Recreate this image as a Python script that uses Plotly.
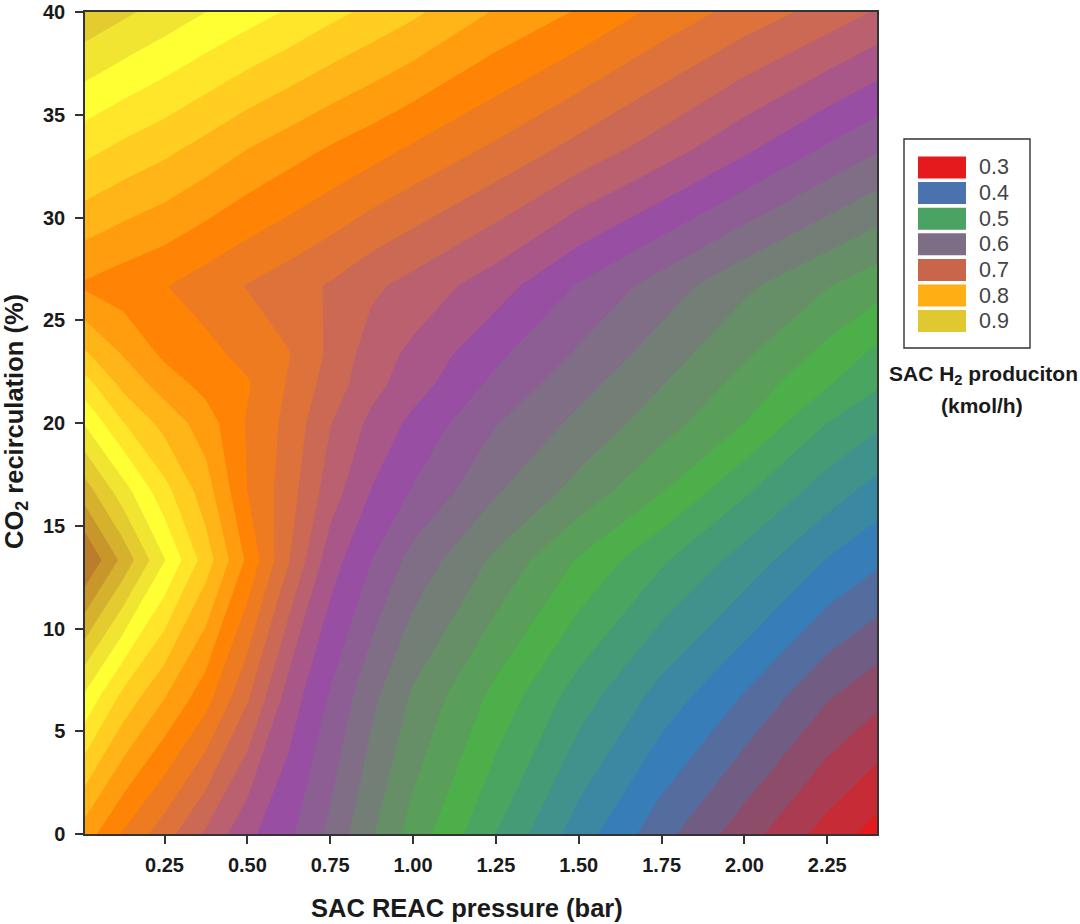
import plotly.graph_objects as go

pressure = [0.01, 0.125, 0.25, 0.375, 0.5, 0.625, 0.75, 0.875, 1.0, 1.25, 1.5, 1.75, 2.0, 2.25, 2.4]
recirc = [0, 6.67, 13.33, 16.67, 20, 21.9, 23.33, 26.67, 33.33, 40]

h2_r0 = [.790, .758, .729, .697, .665, .644, .615, .582, .552, .500, .450, .407, .369, .332, .312]
h2_r7 = [.876, .834, .801, .768, .723, .671, .638, .605, .577, .534, .490, .452, .418, .382, .366]
h2_r13 = [.980, .934, .881, .830, .776, .721, .669, .640, .613, .576, .538, .503, .472, .439, .424]
h2_r17 = [.930, .889, .847, .809, .760, .729, .690, .659, .638, .602, .573, .541, .503, .470, .452]
h2_r20 = [.878, .841, .813, .790, .758, .734, .701, .675, .655, .621, .595, .569, .540, .500, .484]
h2_r22 = [.848, .814, .791, .773, .762, .738, .711, .687, .669, .635, .607, .581, .553, .522, .503]
h2_r23 = [.823, .799, .776, .766, .754, .741, .716, .690, .675, .644, .617, .590, .563, .534, .515]
h2_r27 = [.777, .769, .761, .750, .739, .729, .718, .704, .693, .669, .638, .611, .584, .561, .548]
h2_r33 = [.846, .835, .825, .813, .800, .789, .778, .768, .757, .736, .713, .690, .664, .637, .622]
h2_r40 = [.915, .904, .892, .880, .869, .858, .846, .835, .824, .798, .778, .754, .732, .712, .698]
h2 = [h2_r0, h2_r7, h2_r13, h2_r17, h2_r20, h2_r22, h2_r23, h2_r27, h2_r33, h2_r40]

x_ticks = [0.25, 0.5, 0.75, 1.0, 1.25, 1.5, 1.75, 2.0, 2.25]
y_ticks = [0, 5, 10, 15, 20, 25, 30, 35, 40]

legend_labels = ['0.3', '0.4', '0.5', '0.6', '0.7', '0.8', '0.9']
legend_colors = ['#e41a1c', '#4a72ae', '#4aa362', '#7e6e85', '#c8654a', '#ffae14', '#e0c830']

# set1 colours, stretched over the z range
z_min, z_max = 0.30, 1.0
stops = [(.31, '#e41a1c'), (.43, '#377eb8'), (.53, '#4daf4a'), (.65, '#984ea3'),
         (.77, '#ff8405'), (.87, '#ffff33'), (1.0, '#a65628')]
colorscale = [[0, '#e41a1c']] + [[(v - z_min) / (z_max - z_min), c] for v, c in stops]

# plot area in page pixels
L, R, T, B = 85, 877, 12, 834


def px_x(p):
    return (p - L) / (R - L)


def px_y(p):
    return (B - p) / (B - T)


fig = go.Figure(go.Contour(
    x=pressure, y=recirc, z=h2,
    colorscale=colorscale, zmin=z_min, zmax=z_max, showscale=False,
    contours=dict(coloring='fill', start=z_min, end=z_max, size=0.02, showlines=False),
    line=dict(width=0, smoothing=0),
))

tick_font = dict(family='Liberation Sans', size=20, color='#1a1a1a', weight=700)
title_font = dict(family='Liberation Sans', size=25.5, color='#1a1a1a', weight=700)
legend_title_font = dict(family='Liberation Sans', size=21, color='#1a1a1a', weight=700)
axis_style = dict(showline=True, mirror=True, linecolor='#333333', linewidth=1.5, ticks='outside',
                  ticklen=8, tickwidth=1.5, tickcolor='#333333', showgrid=False, zeroline=False,
                  tickfont=tick_font, automargin=False)

fig.update_xaxes(range=[0.01, 2.4], tickvals=x_ticks, tickformat='.2f', ticklabelstandoff=4, **axis_style)
fig.update_yaxes(range=[0, 40], tickvals=y_ticks, ticklabelstandoff=6, **axis_style)

# axis titles are not centred on the plot in the original
fig.add_annotation(xref='paper', yref='paper', x=px_x(467), y=px_y(908), text='SAC REAC pressure (bar)',
                   showarrow=False, xanchor='center', yanchor='middle', font=title_font)
fig.add_annotation(xref='paper', yref='paper', x=px_x(16), y=px_y(422), text='CO<sub>2</sub> recirculation (%)',
                   showarrow=False, xanchor='center', yanchor='middle', textangle=-90, font=title_font)

# legend box on the right, drawn by hand like the original
fig.add_shape(type='rect', xref='paper', yref='paper', x0=px_x(904), x1=px_x(1030), y0=px_y(348), y1=px_y(139),
              line=dict(color='#333333', width=1.4), fillcolor='white')
for i, (label, color) in enumerate(zip(legend_labels, legend_colors)):
    top = 156.5 + i * 25.6
    fig.add_shape(type='rect', xref='paper', yref='paper', x0=px_x(918), x1=px_x(966),
                  y0=px_y(top + 22), y1=px_y(top), line=dict(width=0), fillcolor=color)
    fig.add_annotation(xref='paper', yref='paper', x=px_x(977), y=px_y(top + 11), text=label, showarrow=False,
                       xanchor='left', yanchor='middle',
                       font=dict(family='Liberation Sans', size=21.5, color='#444444'))

fig.add_annotation(xref='paper', yref='paper', x=px_x(983.5), y=px_y(375), text='SAC H<sub>2</sub> produciton',
                   showarrow=False, xanchor='center', yanchor='middle', font=legend_title_font)
fig.add_annotation(xref='paper', yref='paper', x=px_x(981.5), y=px_y(405), text='(kmol/h)',
                   showarrow=False, xanchor='center', yanchor='middle', font=legend_title_font)

fig.update_layout(width=1080, height=924,
                  margin=dict(l=L, r=1080 - R, t=T, b=924 - B),
                  paper_bgcolor='white', plot_bgcolor='white')

fig.write_html("out.html", config={'displayModeBar': False}, post_script="document.body.style.margin='0';")
